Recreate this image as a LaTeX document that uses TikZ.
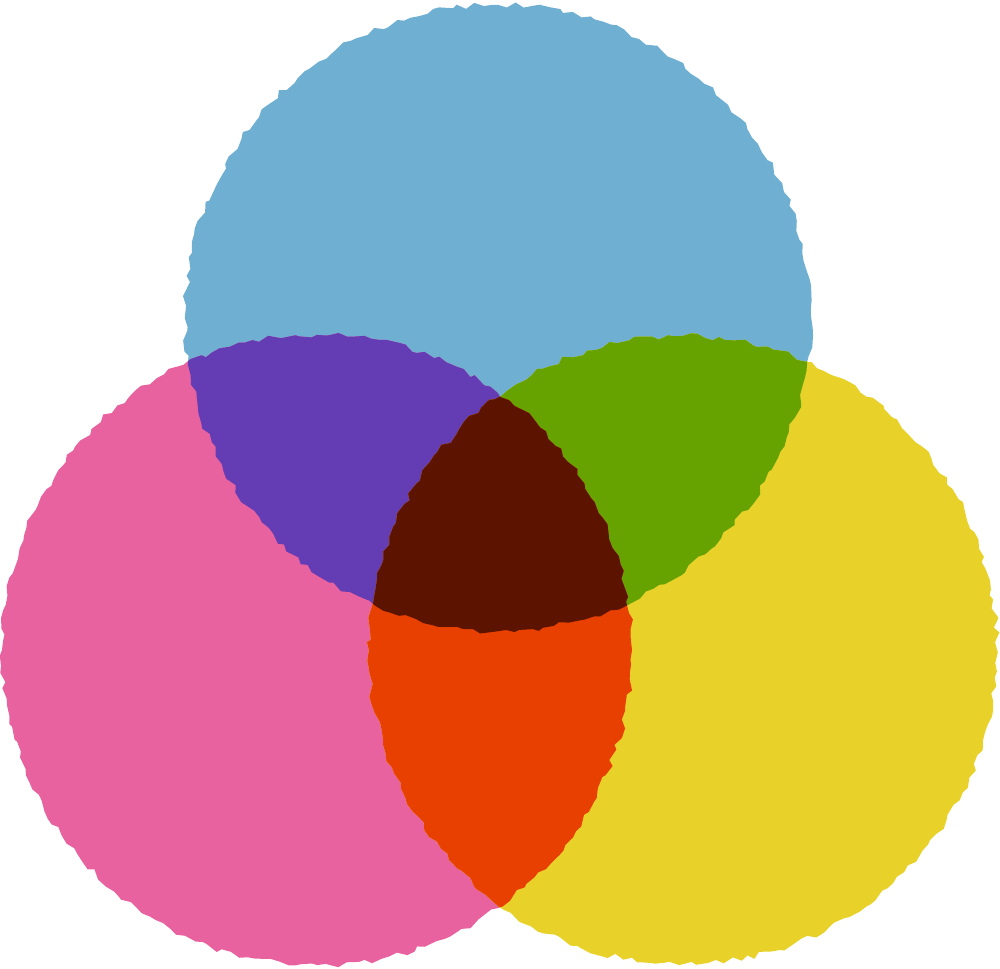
\documentclass[tikz,border=0pt]{standalone}
\usetikzlibrary{decorations.pathmorphing}
\definecolor{skyblue}{HTML}{6FB0D2}
\definecolor{rosepink}{HTML}{E862A0}
\definecolor{lemon}{HTML}{E8D22A}
\definecolor{grape}{HTML}{643CB4}
\definecolor{leaf}{HTML}{66A300}
\definecolor{flame}{HTML}{E84000}
\definecolor{umber}{HTML}{5C1400}
\tikzstyle{rough} = [decorate, decoration={random steps, segment length=0.8mm, amplitude=0.3mm}]
\tikzset{rseed/.code={\pgfmathsetseed{#1}}}

\begin{document}
\begin{tikzpicture}
\useasboundingbox (0,0) rectangle (10,9.68);
\coordinate (blue) at (4.98,6.50);
\coordinate (pink) at (3.17,3.18);
\coordinate (yellow) at (6.83,3.18);

% the three circles
\fill [rough, rseed=11, skyblue] (blue) circle (3.13);
\fill [rough, rseed=22, rosepink] (pink) circle (3.15);
\fill [rough, rseed=33, lemon] (yellow) circle (3.14);

% two at a time
\begin{scope}
\clip [rough, rseed=11] (blue) circle (3.13);
\fill [rough, rseed=22, grape] (pink) circle (3.15);
\fill [rough, rseed=33, leaf] (yellow) circle (3.14);
\end{scope}
\begin{scope}
\clip [rough, rseed=22] (pink) circle (3.15);
\fill [rough, rseed=33, flame] (yellow) circle (3.14);
\end{scope}

% all three
\begin{scope}
\clip [rough, rseed=11] (blue) circle (3.13);
\clip [rough, rseed=22] (pink) circle (3.15);
\fill [rough, rseed=33, umber] (yellow) circle (3.14);
\end{scope}
\end{tikzpicture}
\end{document}
